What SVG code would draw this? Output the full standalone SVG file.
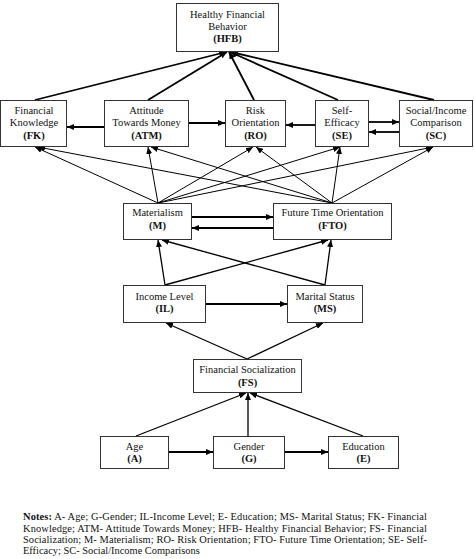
<svg xmlns="http://www.w3.org/2000/svg" width="474" height="559" viewBox="0 0 474 559">
<style>
.box{fill:#fff;stroke:#333;stroke-width:1}
.t{font-family:"Liberation Serif","Times New Roman",serif;font-size:10.5px;fill:#111;text-anchor:middle}
.b{font-weight:bold}
.thick{stroke:#000;stroke-width:1.8;fill:none}
.mid{stroke:#000;stroke-width:1.3;fill:none}
.thin{stroke:#000;stroke-width:1;fill:none}
.note{font-family:"Liberation Serif","Times New Roman",serif;font-size:10.4px;fill:#111}
</style>
<defs>
<marker id="ah" markerUnits="userSpaceOnUse" markerWidth="8" markerHeight="6" refX="7" refY="3" orient="auto">
<path d="M0,0 L7,3 L0,6 Z" fill="#000"/>
</marker>
</defs>
<rect width="474" height="559" fill="#fff"/>
<g id="connectors">
<line class="thick" x1="35" y1="100" x2="226" y2="52" marker-end="url(#ah)"/>
<line class="thick" x1="148" y1="100" x2="227" y2="52" marker-end="url(#ah)"/>
<line class="thick" x1="254" y1="100" x2="229" y2="52" marker-end="url(#ah)"/>
<line class="thick" x1="338" y1="100" x2="230" y2="52" marker-end="url(#ah)"/>
<line class="thick" x1="434" y1="100" x2="231" y2="52" marker-end="url(#ah)"/>
<line class="thick" x1="104" y1="127" x2="67" y2="127" marker-end="url(#ah)"/>
<line class="thick" x1="189" y1="123" x2="225" y2="123" marker-end="url(#ah)"/>
<line class="thick" x1="315" y1="125" x2="286" y2="125" marker-end="url(#ah)"/>
<line class="thick" x1="369" y1="122" x2="399" y2="122" marker-end="url(#ah)"/>
<line class="thick" x1="399" y1="132" x2="369" y2="132" marker-end="url(#ah)"/>
<line class="thin" x1="158" y1="203" x2="35" y2="147" marker-end="url(#ah)"/>
<line class="thin" x1="158" y1="203" x2="148" y2="147" marker-end="url(#ah)"/>
<line class="thin" x1="158" y1="203" x2="253" y2="147" marker-end="url(#ah)"/>
<line class="thin" x1="158" y1="203" x2="340" y2="147" marker-end="url(#ah)"/>
<line class="thin" x1="158" y1="203" x2="433" y2="147" marker-end="url(#ah)"/>
<line class="thin" x1="332" y1="203" x2="38" y2="147" marker-end="url(#ah)"/>
<line class="thin" x1="332" y1="203" x2="151" y2="147" marker-end="url(#ah)"/>
<line class="thin" x1="332" y1="203" x2="256" y2="147" marker-end="url(#ah)"/>
<line class="thin" x1="332" y1="203" x2="340" y2="147" marker-end="url(#ah)"/>
<line class="thin" x1="332" y1="203" x2="433" y2="147" marker-end="url(#ah)"/>
<line class="thick" x1="192" y1="217" x2="273" y2="217" marker-end="url(#ah)"/>
<line class="thick" x1="273" y1="228" x2="192" y2="228" marker-end="url(#ah)"/>
<line class="mid" x1="165" y1="285" x2="158" y2="240" marker-end="url(#ah)"/>
<line class="mid" x1="165" y1="285" x2="328" y2="240" marker-end="url(#ah)"/>
<line class="mid" x1="325" y1="285" x2="162" y2="240" marker-end="url(#ah)"/>
<line class="mid" x1="325" y1="285" x2="331" y2="240" marker-end="url(#ah)"/>
<line class="thick" x1="206" y1="304" x2="287" y2="304" marker-end="url(#ah)"/>
<line class="mid" x1="247" y1="359" x2="166" y2="323" marker-end="url(#ah)"/>
<line class="mid" x1="247" y1="359" x2="323" y2="323" marker-end="url(#ah)"/>
<line class="mid" x1="136" y1="436" x2="246" y2="393" marker-end="url(#ah)"/>
<line class="mid" x1="248" y1="436" x2="248" y2="393" marker-end="url(#ah)"/>
<line class="mid" x1="363" y1="436" x2="250" y2="393" marker-end="url(#ah)"/>
<line class="thick" x1="169" y1="452" x2="213" y2="452" marker-end="url(#ah)"/>
<line class="thick" x1="285" y1="452" x2="328" y2="452" marker-end="url(#ah)"/>
</g>
<g id="HFB">
<rect class="box" x="176.5" y="3.5" width="102" height="48"/>
<text class="t" x="227.5" y="18">Healthy Financial</text>
<text class="t" x="227.5" y="30">Behavior</text>
<text class="t b" x="227.5" y="42">(HFB)</text>
</g>
<g id="FK">
<rect class="box" x="0.5" y="100.5" width="66" height="46"/>
<text class="t" x="34" y="114">Financial</text>
<text class="t" x="34" y="126">Knowledge</text>
<text class="t b" x="34" y="139">(FK)</text>
</g>
<g id="ATM">
<rect class="box" x="104.5" y="100.5" width="84" height="46"/>
<text class="t" x="146.5" y="114">Attitude</text>
<text class="t" x="146.5" y="126">Towards Money</text>
<text class="t b" x="146.5" y="139">(ATM)</text>
</g>
<g id="RO">
<rect class="box" x="225.5" y="100.5" width="60" height="46"/>
<text class="t" x="255.5" y="114">Risk</text>
<text class="t" x="255.5" y="126">Orientation</text>
<text class="t b" x="255.5" y="139">(RO)</text>
</g>
<g id="SE">
<rect class="box" x="315.5" y="100.5" width="53" height="46"/>
<text class="t" x="342" y="114">Self-</text>
<text class="t" x="342" y="126">Efficacy</text>
<text class="t b" x="342" y="139">(SE)</text>
</g>
<g id="SC">
<rect class="box" x="399.5" y="100.5" width="73" height="46"/>
<text class="t" x="436" y="114">Social/Income</text>
<text class="t" x="436" y="126">Comparison</text>
<text class="t b" x="436" y="139">(SC)</text>
</g>
<g id="M">
<rect class="box" x="123.5" y="203.5" width="68" height="36"/>
<text class="t" x="157.5" y="216">Materialism</text>
<text class="t b" x="157.5" y="229">(M)</text>
</g>
<g id="FTO">
<rect class="box" x="273.5" y="203.5" width="118" height="36"/>
<text class="t" x="332.5" y="216">Future Time Orientation</text>
<text class="t b" x="332.5" y="229">(FTO)</text>
</g>
<g id="IL">
<rect class="box" x="123.5" y="285.5" width="82" height="37"/>
<text class="t" x="164.5" y="300">Income Level</text>
<text class="t b" x="164.5" y="312">(IL)</text>
</g>
<g id="MS">
<rect class="box" x="287.5" y="285.5" width="75" height="37"/>
<text class="t" x="325" y="300">Marital Status</text>
<text class="t b" x="325" y="312">(MS)</text>
</g>
<g id="FS">
<rect class="box" x="193.5" y="359.5" width="108" height="33"/>
<text class="t" x="247.5" y="373">Financial Socialization</text>
<text class="t b" x="247.5" y="386">(FS)</text>
</g>
<g id="A">
<rect class="box" x="100.5" y="436.5" width="68" height="32"/>
<text class="t" x="134.5" y="450">Age</text>
<text class="t b" x="134.5" y="462">(A)</text>
</g>
<g id="G">
<rect class="box" x="213.5" y="436.5" width="71" height="32"/>
<text class="t" x="249" y="450">Gender</text>
<text class="t b" x="249" y="462">(G)</text>
</g>
<g id="E">
<rect class="box" x="328.5" y="436.5" width="70" height="32"/>
<text class="t" x="363.5" y="450">Education</text>
<text class="t b" x="363.5" y="462">(E)</text>
</g>
<g id="notes">
<text class="note" x="23" y="520" textLength="404" lengthAdjust="spacing"><tspan font-weight="bold">Notes:</tspan> A- Age; G-Gender; IL-Income Level; E- Education; MS- Marital Status; FK- Financial</text>
<text class="note" x="23" y="532" textLength="404" lengthAdjust="spacing">Knowledge; ATM- Attitude Towards Money; HFB- Healthy Financial Behavior; FS- Financial</text>
<text class="note" x="23" y="543" textLength="404" lengthAdjust="spacing">Socialization; M- Materialism; RO- Risk Orientation; FTO- Future Time Orientation; SE- Self-</text>
<text class="note" x="23" y="554">Efficacy; SC- Social/Income Comparisons</text>
</g>
</svg>
